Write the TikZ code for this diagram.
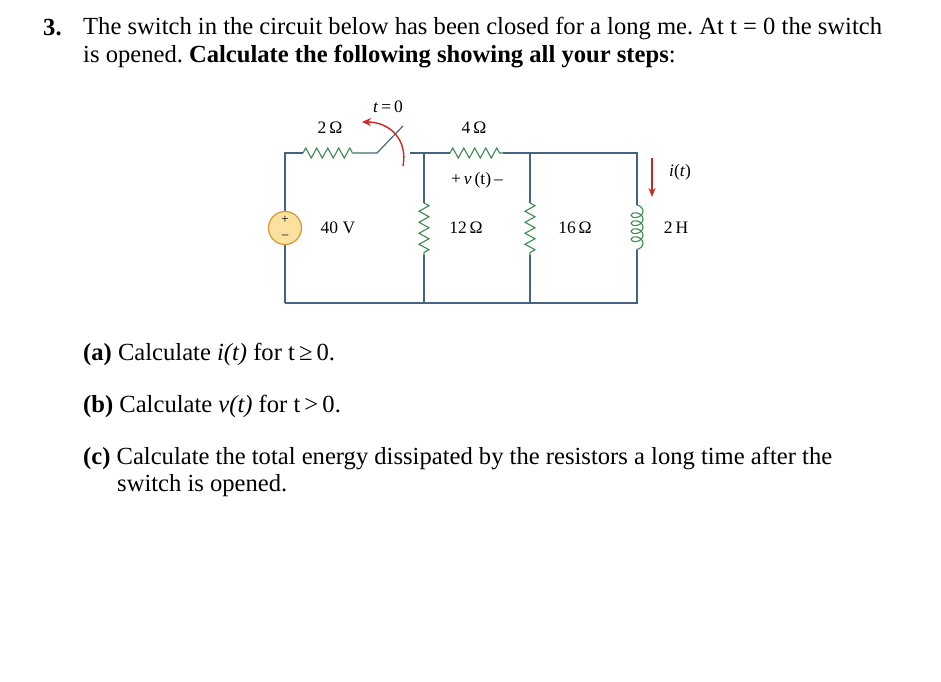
\documentclass[tikz,border=0pt]{standalone}
\usepackage{fontspec}
\setmainfont{Liberation Serif}
\usetikzlibrary{decorations.pathmorphing,arrows.meta}
\definecolor{wire}{RGB}{70,100,130}
\definecolor{resg}{RGB}{60,140,80}
\definecolor{redc}{RGB}{200,40,40}
\definecolor{srcf}{RGB}{250,225,160}
\definecolor{srcd}{RGB}{215,150,60}
\tikzset{
  wr/.style={draw=wire,line width=1.2pt},
  resh/.style={draw=resg,line width=1.1pt,decorate,decoration={zigzag,amplitude=5pt,segment length=11pt}},
  ind/.style={draw=resg,line width=1.1pt,decorate,decoration={coil,amplitude=6pt,segment length=8pt,aspect=0.7}},
  lab/.style={font=\fontsize{17.5pt}{19pt}\selectfont,inner sep=0pt},
  txt/.style={font=\fontsize{24.6pt}{28pt}\selectfont,anchor=west,inner sep=0pt},
}
\begin{document}
\frenchspacing
\begin{tikzpicture}[x=1pt,y=-1pt]
\useasboundingbox (0,0) rectangle (941,681);
% text
\node[txt] (n3) at (43,28) {\textbf{3.}};
\node[txt] (l1) at (83,28) {The switch in the circuit below has been closed for a long me. At t = 0 the switch};
\node[txt] (l2) at (83,57) {is opened. \textbf{Calculate the following showing all your steps}:};
\node[txt] (qa) at (83,354) {\textbf{(a)} Calculate \textit{i(t)} for t\,≥\,0.};
\node[txt] (qb) at (83,406) {\textbf{(b)} Calculate \textit{v(t)} for t\,>\,0.};
\node[txt] (qc) at (83,458) {\textbf{(c)} Calculate the total energy dissipated by the resistors a long time after the};
\node[txt] (qc2) at (117,486) {switch is opened.};
% circuit coordinates
\coordinate (TL) at (285,153);
\coordinate (BL) at (285,303);
\coordinate (R2a) at (303,153);
\coordinate (R2b) at (355,153);
\coordinate (SWp) at (377,153);
\coordinate (SWe) at (403,126);
\coordinate (SWc) at (410,153);
\coordinate (A) at (424,153);
\coordinate (R4a) at (450,153);
\coordinate (R4b) at (503,153);
\coordinate (B) at (530,153);
\coordinate (C) at (637,153);
\coordinate (Ab) at (424,303);
\coordinate (Bb) at (530,303);
\coordinate (Cb) at (637,303);
\coordinate (R12a) at (424,203);
\coordinate (R12b) at (424,255);
\coordinate (R16a) at (530,203);
\coordinate (R16b) at (530,255);
\coordinate (La) at (637,205);
\coordinate (Lb) at (637,250);
% wires
\draw[wr] (BL) -- (285,212);
\draw[wr] (285,244) -- (TL) -- (R2a);
\draw[wr] (R2b) -- (SWp) -- (SWe);
\draw[wr] (SWc) -- (A) -- (R4a);
\draw[wr] (R4b) -- (B) -- (C) -- (La);
\draw[wr] (Lb) -- (Cb) -- (Bb) -- (Ab) -- (BL);
\draw[wr] (A) -- (R12a); \draw[wr] (R12b) -- (Ab);
\draw[wr] (B) -- (R16a); \draw[wr] (R16b) -- (Bb);
% resistors
\draw[resh] (R2a) -- (R2b);
\draw[resh] (R4a) -- (R4b);
\draw[resh] (R12a) -- (R12b);
\draw[resh] (R16a) -- (R16b);
\draw[ind] (La) -- (Lb);
% source
\node[circle,draw=srcd,fill=srcf,line width=1.2pt,minimum size=33pt,inner sep=0pt] (V) at (285,228) {};
\node[lab,font=\fontsize{13pt}{13pt}\selectfont] (vp) at (285,220) {+};
\node[lab,font=\fontsize{13pt}{13pt}\selectfont] (vm) at (285,237) {–};
% switch arrow
\draw[redc,line width=1.4pt,-{Stealth[length=9pt,width=8pt]}] (403,166) .. controls (408,140) and (390,122) .. (362,122);
% labels
\node[lab] (l2o) at (330,128) {2\,Ω};
\node[lab] (lt0) at (388,107) {\textit{t}\,=\,0};
\node[lab] (l4o) at (474,128) {4\,Ω};
\node[lab] (lv) at (477,180) {+\,\textit{v}\,(t)\,–};
\node[lab] (l40) at (338,228) {40 V};
\node[lab] (l12) at (466,228) {12\,Ω};
\node[lab] (l16) at (575,228) {16\,Ω};
\node[lab] (l2h) at (676,228) {2\,H};
\node[lab] (li) at (680,172) {\textit{i}(\textit{t})};
\coordinate (Ia) at (652,158);
\coordinate (Ib) at (652,197);
\draw[redc,line width=1.4pt,-{Stealth[length=9pt,width=7pt]}] (Ia) -- (Ib);
\end{tikzpicture}
\end{document}
